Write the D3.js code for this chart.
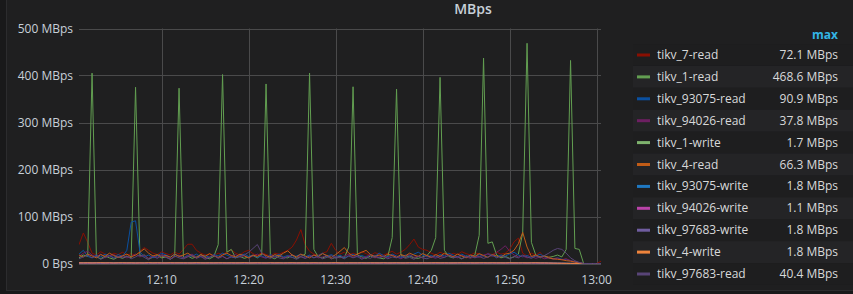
<!DOCTYPE html>
<html>
<head>
<meta charset="utf-8">
<script src="https://d3js.org/d3.v7.min.js"></script>
<style>
  html, body { margin: 0; padding: 0; background: #19191a; }
  #my_dataviz { width: 853px; height: 294px; overflow: hidden; }
  text { font-family: "Open Sans", "DejaVu Sans", sans-serif; }
</style>
</head>
<body>
<div id="my_dataviz"></div>
<script>
var width = 853
var height = 294

// series names + colours (legend order)
var seriesNames = ["tikv_7-read", "tikv_1-read", "tikv_93075-read", "tikv_94026-read", "tikv_1-write",
    "tikv_4-read", "tikv_93075-write", "tikv_94026-write", "tikv_97683-write", "tikv_4-write", "tikv_97683-read"]
var seriesColors = ["#890F02", "#629E51", "#0A50A1", "#6D1F62", "#7EB26D",
    "#C15C17", "#1F78C1", "#BA43A9", "#705DA0", "#EF843C", "#584477"]

// sample times: every 30s from 12:00:30 to 13:00:00
var startTime = new Date(2019, 0, 1, 12, 0, 30)
var stepSeconds = 30

var yTicks = [0, 100, 200, 300, 400, 500]

// MBps values, one per sample
var tikv7Read = [
    40, 65, 45, 22, 18, 25, 20, 16, 22, 19,
    24, 18, 21, 17, 26, 34, 28, 22, 19, 25,
    21, 18, 24, 20, 30, 41, 41, 28, 22, 18,
    20, 16, 22, 19, 24, 29, 22, 18, 25, 28,
    21, 17, 23, 19, 16, 22, 20, 24, 28, 35,
    50, 72.1, 40, 26, 20, 18, 22, 25, 43, 28,
    20, 24, 18, 22, 19, 25, 21, 17, 23, 20,
    18, 22, 26, 20, 24, 30, 40, 52, 35, 30,
    28, 22, 18, 24, 20, 17, 22, 19, 25, 21,
    18, 23, 20, 16, 22, 19, 24, 20, 22, 30,
    46, 54, 22, 16, 22, 18, 24, 12, 15, 10,
    12, 8, 10, 6, 4, 2, 0, 0, 0, 0,
    5]
var tikv1Read = [
    12, 18, 15, 405, 14, 10, 16, 12, 9, 14,
    11, 15, 12, 375, 16, 18, 10, 13, 17, 12,
    14, 9, 15, 373, 12, 16, 11, 14, 19, 13,
    10, 15, 40, 402, 24, 30, 12, 15, 11, 14,
    17, 12, 18, 382, 14, 10, 16, 13, 12, 18,
    11, 15, 20, 405, 30, 14, 12, 16, 10, 13,
    15, 12, 35, 376, 18, 14, 11, 16, 13, 12,
    10, 15, 55, 371, 18, 13, 16, 12, 11, 14,
    17, 28, 55, 396, 28, 15, 12, 14, 10, 16,
    13, 18, 60, 437, 43, 46, 18, 12, 15, 11,
    14, 20, 65, 468.6, 45, 18, 12, 16, 13, 15,
    18, 14, 30, 432, 32, 30, 0, 0, 0, 0,
    0]
var tikv93075Read = [
    20, 28, 15, 12, 18, 14, 20, 16, 13, 19,
    15, 28, 88, 90.9, 25, 14, 18, 12, 16, 22,
    18, 14, 20, 16, 12, 18, 15, 20, 14, 17,
    13, 19, 16, 22, 18, 14, 12, 17, 20, 15,
    18, 13, 16, 12, 19, 15, 20, 14, 17, 13,
    16, 20, 14, 18, 12, 17, 22, 15, 19, 14,
    18, 12, 16, 20, 14, 17, 13, 19, 15, 22,
    17, 14, 20, 16, 12, 18, 15, 20, 24, 18,
    14, 17, 13, 19, 16, 22, 18, 14, 20, 15,
    17, 13, 19, 15, 21, 17, 14, 18, 16, 20,
    24, 18, 14, 17, 13, 16, 20, 14, 12, 10,
    12, 9, 8, 6, 4, 2, 0, 0, 0, 0,
    0]
var tikv94026Read = [
    15, 22, 26, 18, 14, 20, 12, 16, 19, 13,
    17, 12, 15, 20, 14, 18, 11, 16, 13, 19,
    15, 10, 14, 18, 12, 16, 20, 13, 17, 11,
    14, 18, 12, 16, 10, 15, 19, 13, 17, 12,
    16, 20, 14, 11, 17, 13, 18, 12, 15, 19,
    13, 16, 11, 15, 18, 12, 14, 17, 10, 15,
    12, 16, 19, 13, 17, 11, 15, 18, 12, 14,
    16, 12, 18, 14, 10, 15, 19, 13, 16, 12,
    17, 14, 11, 16, 13, 18, 15, 12, 17, 14,
    11, 16, 13, 18, 20, 15, 24, 30, 37.8, 26,
    18, 14, 16, 12, 15, 11, 14, 10, 12, 9,
    11, 8, 10, 6, 3, 1, 0, 0, 0, 0,
    0]
var tikv1Write = [
    1.2, 1.4, 1.1, 1.5, 1.3, 1.0, 1.2, 1.6, 1.1, 1.3,
    1.4, 1.2, 1.0, 1.5, 1.3, 1.1, 1.4, 1.2, 1.7, 1.3,
    1.1, 1.3, 1.5, 1.2, 1.0, 1.4, 1.2, 1.3, 1.1, 1.5,
    1.3, 1.2, 1.4, 1.0, 1.3, 1.5, 1.2, 1.1, 1.4, 1.3,
    1.2, 1.5, 1.1, 1.3, 1.4, 1.2, 1.0, 1.3, 1.5, 1.2,
    1.4, 1.1, 1.3, 1.2, 1.6, 1.3, 1.1, 1.4, 1.2, 1.0,
    1.3, 1.5, 1.2, 1.4, 1.1, 1.3, 1.2, 1.5, 1.3, 1.1,
    1.4, 1.2, 1.3, 1.0, 1.5, 1.2, 1.4, 1.1, 1.3, 1.2,
    1.5, 1.3, 1.1, 1.4, 1.2, 1.3, 1.0, 1.4, 1.2, 1.5,
    1.3, 1.1, 1.4, 1.2, 1.3, 1.5, 1.2, 1.0, 1.3, 1.4,
    1.2, 1.5, 1.3, 1.1, 1.4, 1.2, 1.3, 1.0, 0.8, 0.6,
    0.5, 0.4, 0.3, 0.2, 0.1, 0.1, 0, 0, 0, 0,
    0]
var tikv4Read = [
    18, 14, 20, 16, 12, 19, 15, 22, 17, 13,
    16, 20, 14, 18, 24, 31, 22, 16, 19, 14,
    17, 13, 20, 15, 18, 22, 16, 12, 19, 15,
    21, 16, 13, 18, 22, 17, 14, 20, 16, 12,
    18, 15, 21, 17, 13, 19, 16, 22, 27, 18,
    14, 20, 16, 12, 18, 15, 21, 17, 13, 19,
    26, 34, 22, 16, 20, 24, 28, 19, 15, 18,
    14, 20, 17, 13, 19, 16, 22, 18, 15, 21,
    17, 13, 19, 15, 22, 18, 14, 20, 16, 12,
    18, 15, 21, 17, 13, 19, 16, 14, 20, 22,
    28, 42, 66.3, 35, 15, 18, 14, 16, 12, 10,
    9, 8, 6, 5, 3, 1, 0, 0, 0, 0,
    0]
var tikv93075Write = [
    1.3, 1.5, 1.2, 1.6, 1.4, 1.1, 1.5, 1.3, 1.8, 1.2,
    1.4, 1.6, 1.3, 1.1, 1.5, 1.2, 1.4, 1.7, 1.3, 1.5,
    1.2, 1.4, 1.6, 1.3, 1.1, 1.5, 1.4, 1.2, 1.6, 1.3,
    1.5, 1.2, 1.4, 1.7, 1.3, 1.1, 1.5, 1.4, 1.2, 1.6,
    1.3, 1.5, 1.2, 1.4, 1.6, 1.3, 1.1, 1.5, 1.3, 1.4,
    1.2, 1.6, 1.4, 1.3, 1.5, 1.1, 1.4, 1.6, 1.2, 1.5,
    1.3, 1.4, 1.2, 1.6, 1.5, 1.3, 1.1, 1.4, 1.7, 1.2,
    1.5, 1.3, 1.4, 1.2, 1.6, 1.4, 1.3, 1.5, 1.1, 1.4,
    1.6, 1.2, 1.5, 1.3, 1.4, 1.7, 1.2, 1.5, 1.3, 1.4,
    1.2, 1.6, 1.3, 1.5, 1.4, 1.1, 1.5, 1.3, 1.6, 1.2,
    1.4, 1.3, 1.5, 1.2, 1.6, 1.4, 1.1, 1.3, 0.9, 0.7,
    0.5, 0.4, 0.3, 0.2, 0.1, 0.1, 0, 0, 0, 0,
    0]
var tikv94026Write = [
    0.7, 0.9, 0.6, 0.8, 1.0, 0.7, 0.9, 0.8, 0.6, 1.1,
    0.8, 0.7, 0.9, 0.6, 0.8, 1.0, 0.7, 0.9, 0.8, 0.6,
    0.9, 0.7, 0.8, 1.0, 0.6, 0.9, 0.7, 0.8, 0.9, 0.7,
    0.6, 0.8, 1.0, 0.7, 0.9, 0.8, 0.6, 0.9, 0.7, 0.8,
    1.0, 0.7, 0.8, 0.6, 0.9, 0.7, 1.0, 0.8, 0.6, 0.9,
    0.7, 0.8, 0.9, 0.7, 0.6, 1.0, 0.8, 0.7, 0.9, 0.8,
    0.6, 0.9, 0.7, 0.8, 1.0, 0.7, 0.9, 0.6, 0.8, 0.7,
    0.9, 0.8, 0.6, 1.0, 0.7, 0.9, 0.8, 0.7, 0.6, 0.9,
    0.8, 1.0, 0.7, 0.9, 0.6, 0.8, 0.7, 0.9, 1.0, 0.7,
    0.8, 0.6, 0.9, 0.7, 0.8, 1.0, 0.7, 0.9, 0.6, 0.8,
    0.7, 0.9, 0.8, 0.6, 1.0, 0.7, 0.8, 0.6, 0.5, 0.4,
    0.3, 0.3, 0.2, 0.1, 0.1, 0, 0, 0, 0, 0,
    0]
var tikv97683Write = [
    1.4, 1.2, 1.6, 1.3, 1.5, 1.1, 1.4, 1.7, 1.2, 1.5,
    1.3, 1.6, 1.2, 1.4, 1.8, 1.3, 1.5, 1.1, 1.4, 1.2,
    1.6, 1.3, 1.5, 1.2, 1.4, 1.7, 1.3, 1.1, 1.5, 1.4,
    1.2, 1.6, 1.3, 1.5, 1.1, 1.4, 1.6, 1.2, 1.5, 1.3,
    1.4, 1.2, 1.7, 1.3, 1.5, 1.1, 1.4, 1.6, 1.2, 1.3,
    1.5, 1.3, 1.1, 1.6, 1.4, 1.2, 1.5, 1.3, 1.7, 1.2,
    1.4, 1.6, 1.3, 1.1, 1.5, 1.2, 1.4, 1.3, 1.6, 1.5,
    1.2, 1.4, 1.5, 1.3, 1.1, 1.6, 1.2, 1.4, 1.3, 1.7,
    1.2, 1.5, 1.3, 1.4, 1.6, 1.1, 1.5, 1.2, 1.4, 1.3,
    1.5, 1.2, 1.6, 1.3, 1.4, 1.2, 1.7, 1.3, 1.5, 1.1,
    1.3, 1.6, 1.2, 1.4, 1.5, 1.3, 1.2, 1.4, 1.0, 0.7,
    0.6, 0.4, 0.3, 0.2, 0.1, 0.1, 0, 0, 0, 0,
    0]
var tikv4Write = [
    1.5, 1.3, 1.6, 1.2, 1.4, 1.7, 1.3, 1.5, 1.2, 1.4,
    1.6, 1.3, 1.5, 1.1, 1.4, 1.2, 1.8, 1.3, 1.5, 1.4,
    1.2, 1.6, 1.3, 1.4, 1.5, 1.2, 1.3, 1.6, 1.4, 1.2,
    1.5, 1.3, 1.4, 1.6, 1.2, 1.5, 1.3, 1.4, 1.7, 1.2,
    1.3, 1.5, 1.4, 1.2, 1.6, 1.3, 1.5, 1.2, 1.4, 1.6,
    1.2, 1.4, 1.5, 1.3, 1.6, 1.2, 1.4, 1.3, 1.5, 1.7,
    1.3, 1.2, 1.5, 1.4, 1.3, 1.6, 1.2, 1.5, 1.4, 1.3,
    1.6, 1.2, 1.4, 1.5, 1.3, 1.2, 1.6, 1.4, 1.3, 1.5,
    1.2, 1.4, 1.6, 1.3, 1.5, 1.2, 1.4, 1.3, 1.6, 1.2,
    1.5, 1.3, 1.4, 1.6, 1.2, 1.5, 1.3, 1.4, 1.2, 1.6,
    1.4, 1.2, 1.5, 1.3, 1.4, 1.6, 1.2, 1.3, 1.0, 0.8,
    0.6, 0.5, 0.3, 0.2, 0.1, 0.1, 0, 0, 0, 0,
    0]
var tikv97683Read = [
    10, 14, 18, 12, 16, 9, 13, 17, 11, 15,
    12, 16, 10, 14, 19, 13, 8, 15, 11, 17,
    13, 9, 16, 12, 10, 14, 18, 11, 15, 9,
    13, 17, 11, 15, 10, 14, 12, 16, 18, 24,
    32, 40.4, 22, 14, 11, 16, 12, 10, 15, 13,
    9, 14, 11, 16, 12, 15, 10, 13, 17, 11,
    14, 10, 16, 12, 15, 9, 13, 11, 17, 12,
    15, 10, 14, 12, 16, 11, 13, 9, 15, 12,
    10, 14, 16, 11, 13, 17, 12, 15, 10, 14,
    16, 12, 15, 11, 14, 18, 12, 16, 13, 10,
    15, 12, 18, 14, 11, 16, 13, 17, 22, 28,
    32, 30, 22, 12, 6, 2, 0, 0, 0, 0,
    0]

var seriesValues = [tikv7Read, tikv1Read, tikv93075Read, tikv94026Read, tikv1Write,
    tikv4Read, tikv93075Write, tikv94026Write, tikv97683Write, tikv4Write, tikv97683Read]

var times = tikv1Read.map(function (v, i) { return new Date(startTime.getTime() + i * stepSeconds * 1000) })

// The svg
var svg = d3.select("#my_dataviz")
    .append("svg")
    .attr("width", width)
    .attr("height", height)

// panel background + border
svg.append("rect")
    .attr("x", 6.5).attr("y", -1)
    .attr("width", width).attr("height", 291.5)
    .attr("fill", "#1f1f20")
    .attr("stroke", "#2c2c2e")

// title
svg.append("text")
    .attr("x", 473).attr("y", 14)
    .attr("text-anchor", "middle")
    .attr("fill", "#c7d0d9")
    .style("font-size", "14px")
    .style("font-weight", 600)
    .text("MBps")

// scales
var x = d3.scaleTime()
    .domain([times[0], times[times.length - 1]])
    .range([79, 601])
var y = d3.scaleLinear()
    .domain([0, 500])
    .range([263.5, 28.5])

var xTicks = x.ticks(d3.timeMinute.every(10))

// grid
var grid = svg.append("g")
grid.selectAll(".hgrid")
    .data(yTicks)
    .enter()
    .append("line")
    .attr("x1", 79).attr("x2", 601)
    .attr("y1", function (d) { return Math.round(y(d)) + 0.5 })
    .attr("y2", function (d) { return Math.round(y(d)) + 0.5 })
    .attr("stroke", "#4a4a4b")
grid.selectAll(".vgrid")
    .data(xTicks)
    .enter()
    .append("line")
    .attr("x1", function (d) { return Math.round(x(d)) + 0.5 })
    .attr("x2", function (d) { return Math.round(x(d)) + 0.5 })
    .attr("y1", 28.5).attr("y2", 263.5)
    .attr("stroke", "#4a4a4b")

// y axis labels
svg.append("g")
    .selectAll("text")
    .data(yTicks)
    .enter()
    .append("text")
    .attr("x", 73)
    .attr("y", function (d) { return y(d) + 4 })
    .attr("text-anchor", "end")
    .attr("fill", "#c7d0d9")
    .style("font-size", "12px")
    .text(function (d) { return d == 0 ? "0 Bps" : d + " MBps" })

// x axis labels
svg.append("g")
    .selectAll("text")
    .data(xTicks)
    .enter()
    .append("text")
    .attr("x", function (d) { return x(d) })
    .attr("y", 284)
    .attr("text-anchor", "middle")
    .attr("fill", "#c7d0d9")
    .style("font-size", "12px")
    .text(d3.timeFormat("%H:%M"))

// lines
svg.append("clipPath").attr("id", "plotclip")
    .append("rect").attr("x", 79).attr("y", 20).attr("width", 523).attr("height", 246)

var line = d3.line()
    .x(function (d, i) { return x(times[i]) })
    .y(function (d) { return y(d) })

svg.append("g")
    .attr("clip-path", "url(#plotclip)")
    .selectAll("path")
    .data(seriesValues)
    .enter()
    .append("path")
    .attr("d", line)
    .attr("fill", "none")
    .attr("stroke", function (d, i) { return seriesColors[i] })
    .attr("stroke-width", 1)

// legend
var rowStart = 55
var rowStep = 21.9

var legend = svg.append("g")

legend.append("text")
    .attr("x", 838).attr("y", 39)
    .attr("text-anchor", "end")
    .attr("fill", "#33b5e5")
    .style("font-size", "12px")
    .style("font-weight", 700)
    .text("max")

var rows = legend.selectAll(".row")
    .data(seriesNames)
    .enter()
    .append("g")
    .attr("transform", function (d, i) { return "translate(0," + (rowStart + i * rowStep) + ")" })

rows.append("rect")
    .attr("x", 633).attr("y", -rowStep / 2)
    .attr("width", 220).attr("height", rowStep)
    .attr("fill", function (d, i) { return i % 2 ? "#242426" : "#1e1e1f" })

rows.append("rect")
    .attr("x", 637).attr("y", -1.5)
    .attr("width", 13).attr("height", 3)
    .attr("fill", function (d, i) { return seriesColors[i] })

rows.append("text")
    .attr("x", 657).attr("y", 4)
    .attr("fill", "#d8d9da")
    .style("font-size", "12px")
    .text(function (d) { return d })

rows.append("text")
    .attr("x", 838).attr("y", 4)
    .attr("text-anchor", "end")
    .attr("fill", "#d8d9da")
    .style("font-size", "12px")
    .text(function (d, i) { return d3.format(".1f")(d3.max(seriesValues[i])) + " MBps" })
</script>
</body>
</html>
